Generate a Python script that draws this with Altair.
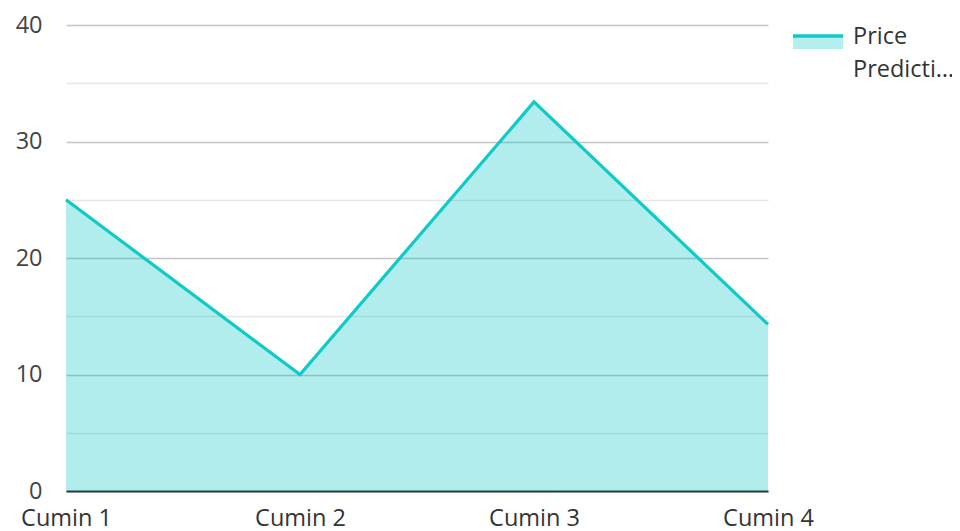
import altair as alt
import pandas as pd

categories = ["Cumin 1", "Cumin 2", "Cumin 3", "Cumin 4"]
values = [25.0, 10.0, 33.4, 14.3]
series_name = "Price Prediction"
legend_lines = ["Price", "Predicti…"]
y_ticks = [0, 5, 10, 15, 20, 25, 30, 35, 40]

df = pd.DataFrame({"cat": categories, "value": values, "series": series_name})

LINE = "#10c9c9"
FILL = "#b2efee"
FONT = "Open Sans"
FS = 23.5

x_enc = alt.X(
    "cat:O",
    sort=categories,
    scale=alt.Scale(type="point", padding=0),
    axis=alt.Axis(
        title=None, labelAngle=0, labelFont=FONT, labelFontSize=FS, labelColor="#333",
        labelPadding=15, ticks=False, domainColor="#333", domainWidth=2, grid=False,
    ),
)
y_enc = alt.Y(
    "value:Q",
    scale=alt.Scale(domain=[0, 40], nice=False),
    axis=alt.Axis(
        title=None, values=y_ticks, labelFont=FONT, labelFontSize=FS, labelColor="#444",
        labelPadding=24, ticks=False, domain=False,
        labelExpr="datum.value % 10 == 0 ? datum.label : ''",
        gridColor={"expr": "datum.value % 10 == 0 ? '#c4c4c4' : '#e6e6e6'"},
        gridWidth=1.3,
    ),
)

base = alt.Chart(df)
area = base.mark_area(color="#00c4c4", opacity=0.3).encode(x=x_enc, y=y_enc)
line = base.mark_line(color=LINE, strokeWidth=3.2).encode(x=x_enc, y=y_enc)

leg_df = pd.DataFrame({"t": [legend_lines[0]], "t2": [legend_lines[1]]})
leg_rect = alt.Chart(leg_df).mark_rect(color=FILL).encode(
    x=alt.value(727), x2=alt.value(777), y=alt.value(10), y2=alt.value(24)
)
leg_line = alt.Chart(leg_df).mark_rule(color=LINE, strokeWidth=3.5).encode(
    x=alt.value(727), x2=alt.value(777), y=alt.value(11)
)
leg_t1 = alt.Chart(leg_df).mark_text(
    align="left", baseline="middle", font=FONT, fontSize=FS, color="#333"
).encode(x=alt.value(787), y=alt.value(12), text="t:N")
leg_t2 = alt.Chart(leg_df).mark_text(
    align="left", baseline="middle", font=FONT, fontSize=FS, color="#333"
).encode(x=alt.value(787), y=alt.value(45), text="t2:N")

chart = alt.layer(area, line, leg_rect, leg_line, leg_t1, leg_t2).properties(
    width=702, height=466,
    autosize=alt.AutoSizeParams(type="none"),
    padding={"left": 58, "top": 17, "right": 184, "bottom": 40},
).configure_view(stroke=None)

chart.save("out.html", embed_options={"renderer": "svg", "actions": False})
